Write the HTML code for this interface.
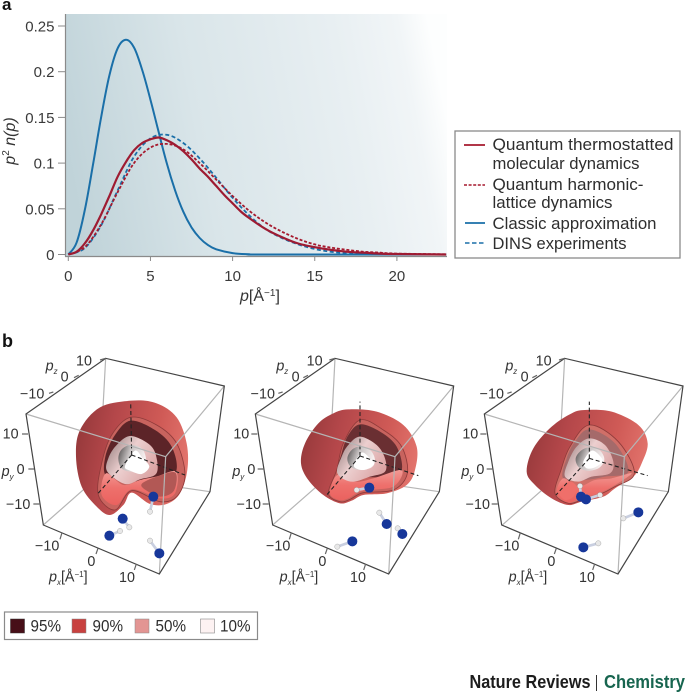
<!DOCTYPE html>
<html lang="en">
<head>
<meta charset="utf-8">
<title>Momentum distribution of water</title>
<style>
html,body{margin:0;padding:0;background:#fff;width:685px;height:692px;overflow:hidden}
svg{display:block;font-family:"Liberation Sans",sans-serif}
.tk{font-size:15px;fill:#3a3a3a}
.leg{font-size:16.5px;fill:#2e2e2e}
.b{stroke:#444;stroke-width:3.6;fill:none}
.g{stroke:#b5b5b5;stroke-width:3.6;fill:none}
.t{stroke:#666;stroke-width:3.6;fill:none}
.l{font-size:43px;fill:#333}
.d{stroke:#222;stroke-width:3.2;stroke-dasharray:12 8;fill:none}
.rim{stroke:#8f3a3a;stroke-width:2.5}
</style>
</head>
<body>
<svg id="root" xmlns="http://www.w3.org/2000/svg" width="685" height="692" viewBox="0 0 685 692">
<defs>
<linearGradient id="bg" x1="0" y1="0.56" x2="1" y2="0.44">
<stop offset="0" stop-color="#c0d3d9"/>
<stop offset="0.35" stop-color="#d9e5e9"/>
<stop offset="0.75" stop-color="#e8eff2"/>
<stop offset="0.92" stop-color="#f1f5f7"/>
<stop offset="1" stop-color="#fdfefe"/>
</linearGradient>
<linearGradient id="out" x1="0" y1="0.3" x2="1" y2="0.5">
<stop offset="0" stop-color="#96393b"/>
<stop offset="0.3" stop-color="#b4474a"/>
<stop offset="0.7" stop-color="#cf5a56"/>
<stop offset="1" stop-color="#e2736c"/>
</linearGradient>
<linearGradient id="shell" x1="0" y1="0" x2="1" y2="0.6">
<stop offset="0" stop-color="#8a7474"/>
<stop offset="0.5" stop-color="#eccfcf"/>
<stop offset="1" stop-color="#dca5a5"/>
</linearGradient>
<linearGradient id="core" x1="0" y1="0" x2="1" y2="0.3">
<stop offset="0" stop-color="#4e4a4a"/>
<stop offset="0.45" stop-color="#c9c4c4"/>
<stop offset="1" stop-color="#f7efef"/>
</linearGradient>
<linearGradient id="fl" x1="0" y1="0" x2="0" y2="1">
<stop offset="0" stop-color="#f29a95"/>
<stop offset="0.5" stop-color="#ee706c"/>
<stop offset="1" stop-color="#ea625f"/>
</linearGradient>
</defs>

<text x="2" y="10" font-size="17" font-weight="700" fill="#111">a</text>
<g id="chart">
<rect x="66" y="14" width="381" height="242" fill="url(#bg)"/>
<g id="axes"></g>
<g id="series"></g>
<text transform="translate(15,141) rotate(-90)" font-size="16" font-style="italic" fill="#333" text-anchor="middle">p<tspan font-size="10" dy="-6" font-style="normal">2</tspan><tspan dy="6"> n(p)</tspan></text>
<text x="240" y="301" font-size="16" fill="#333"><tspan font-style="italic">p</tspan>[Å<tspan font-size="10" dy="-5">−1</tspan><tspan dy="5">]</tspan></text>
</g>

<g>
<rect x="455" y="131" width="225" height="127" fill="#fff" stroke="#8a8a8a" stroke-width="1.3"/>
<line x1="464" x2="485" y1="145" y2="145" stroke="#a6192e" stroke-width="1.8"/>
<line x1="464" x2="485" y1="185" y2="185" stroke="#a6192e" stroke-width="1.6" stroke-dasharray="3 1.6"/>
<line x1="465" x2="485" y1="223" y2="223" stroke="#1a6fa8" stroke-width="1.8"/>
<line x1="465" x2="485" y1="243" y2="243" stroke="#1a6fa8" stroke-width="1.6" stroke-dasharray="4.5 2.5"/>
<text class="leg" x="492.5" y="150" textLength="181" lengthAdjust="spacingAndGlyphs">Quantum thermostatted</text>
<text class="leg" x="492.5" y="169" textLength="147" lengthAdjust="spacingAndGlyphs">molecular dynamics</text>
<text class="leg" x="492.5" y="190" textLength="151" lengthAdjust="spacingAndGlyphs">Quantum harmonic-</text>
<text class="leg" x="492.5" y="208" textLength="120" lengthAdjust="spacingAndGlyphs">lattice dynamics</text>
<text class="leg" x="492.5" y="229" textLength="164" lengthAdjust="spacingAndGlyphs">Classic approximation</text>
<text class="leg" x="492.5" y="249" textLength="134" lengthAdjust="spacingAndGlyphs">DINS experiments</text>
</g>

<text x="2" y="347" font-size="18" font-weight="700" fill="#111">b</text>

<!-- PANEL 1 -->
<g transform="translate(0,330) scale(0.33333)">
<g>
<path class="g" d="M317 85L298 437M130 585L298 437M630 485L298 437"/>
</g>
<path data-pts="395,212 470,220 530,262 560,340 562,420 540,490 500,522 450,522 395,488 370,525 330,555 290,530 245,470 228,380 240,300 300,232" fill="url(#out)"/>
<path data-pts="392,262 470,285 530,340 555,435 530,500 480,515 395,482 345,540 295,495 305,400 335,315" fill="#c8635e" class="rim"/>
<path data-pts="392,272 465,300 515,350 528,425 470,465 392,450 320,440 316,380 345,315" fill="#5c2428"/>
<path data-pts="318,430 370,465 420,450 468,440 528,425 525,490 480,505 395,478 350,525 305,495" fill="url(#fl)"/>
<path data-pts="470,440 526,428 522,482 482,500 440,482 425,462" fill="#b25855"/>
<path data-pts="392,318 450,345 470,385 468,432 420,448 375,462 322,425 325,385 350,345" fill="url(#shell)"/>
<path data-pts="392,345 425,355 438,385 432,415 395,425 365,415 355,385 365,358" fill="url(#core)"/>
<path data-pts="405,362 428,385 448,410 425,432 390,422 375,408" fill="#fff"/>
<g><path class="d" d="M395 375L392 215M395 375L290 495M395 375L555 435"/></g>
<g>
<path class="g" d="M78 252L497 380L673 168M497 380L478 732"/>
<path class="b" d="M78 252L317 85L673 168L630 485L478 732L130 585Z"/>
</g>
<g><path class="t" d="M300 90L317 85M222 143L236 136M147 190L160 186M66 312L84 312M85 417L102 417M100 522L118 522M180 628L186 608M288 672L294 655M403 720L409 702"/></g>
<g>
<text class="l" x="228" y="106">10</text>
<text class="l" x="182" y="154">0</text>
<text class="l" x="60" y="205">−10</text>
<text class="l" x="137" y="122" font-style="italic">p<tspan font-size="24" dy="10">z</tspan></text>
</g>
<g>
<text class="l" x="8" y="325">10</text>
<text class="l" x="50" y="432">0</text>
<text class="l" x="18" y="537">−10</text>
<text class="l" x="5" y="438" font-style="italic">p<tspan font-size="24" dy="10">y</tspan></text>
</g>
<g>
<text class="l" x="105" y="662">−10</text>
<text class="l" x="262" y="708">0</text>
<text class="l" x="357" y="756">10</text>
<text class="l" x="147" y="755"><tspan font-style="italic">p</tspan><tspan font-size="24" dy="10" font-style="italic">x</tspan><tspan dy="-10">[Å</tspan><tspan font-size="24" dy="-14">−1</tspan><tspan dy="14">]</tspan></text>
</g>
<g class="mols" data-mols="460,500,450,545 368,566,388,592 328,617,360,603 478,670,450,632"></g>
</g>

<!-- PANEL 2 -->
<g transform="translate(230,330) scale(0.33333)">
<g>
<path class="g" d="M315 85L297 437M128 585L297 437M628 485L297 437"/>
</g>
<path data-pts="355,238 440,245 520,285 560,350 555,420 530,465 470,490 400,495 365,512 330,520 280,495 235,450 213,400 225,340 265,280 310,250" fill="url(#out)"/>
<path data-pts="390,270 460,300 515,350 532,430 490,480 400,488 360,508 330,515 295,490 320,420 340,340" fill="#c8635e" class="rim"/>
<path data-pts="390,283 450,305 500,350 515,420 470,440 392,440 325,430 335,370 355,315" fill="#6a2f32"/>
<path data-pts="322,435 375,455 430,445 515,420 490,470 400,482 355,505 328,510 300,490" fill="url(#fl)"/>
<path data-pts="390,320 440,345 465,385 465,425 420,440 365,455 322,430 335,380 355,345" fill="url(#shell)"/>
<path data-pts="390,350 422,362 435,390 425,412 390,420 362,410 352,385 365,360" fill="url(#core)"/>
<path data-pts="395,368 420,385 432,402 410,418 385,418 372,405" fill="#fff"/>
<g><path class="d" d="M390 378L390 215M390 378L290 495M390 378L565 437"/></g>
<g>
<path class="g" d="M76 252L495 380L671 168M495 380L476 732"/>
<path class="b" d="M76 252L315 85L671 168L628 485L476 732L128 585Z"/>
</g>
<g><path class="t" d="M298 90L315 85M220 143L234 136M145 190L158 186M64 312L82 312M83 417L100 417M98 522L116 522M178 628L184 608M286 672L292 655M401 720L407 702"/></g>
<g>
<text class="l" x="230" y="106">10</text>
<text class="l" x="185" y="154">0</text>
<text class="l" x="62" y="205">−10</text>
<text class="l" x="139" y="122" font-style="italic">p<tspan font-size="24" dy="10">z</tspan></text>
</g>
<g>
<text class="l" x="10" y="325">10</text>
<text class="l" x="52" y="432">0</text>
<text class="l" x="20" y="537">−10</text>
<text class="l" x="7" y="438" font-style="italic">p<tspan font-size="24" dy="10">y</tspan></text>
</g>
<g>
<text class="l" x="108" y="662">−10</text>
<text class="l" x="265" y="708">0</text>
<text class="l" x="360" y="756">10</text>
<text class="l" x="149" y="755"><tspan font-style="italic">p</tspan><tspan font-size="24" dy="10" font-style="italic">x</tspan><tspan dy="-10">[Å</tspan><tspan font-size="24" dy="-14">−1</tspan><tspan dy="14">]</tspan></text>
</g>
<g class="mols" data-mols="418,473,380,480 470,582,448,548 517,612,503,595 367,634,322,650"></g>
</g>

<!-- PANEL 3 -->
<g transform="translate(455,330) scale(0.33333)">
<g>
<path class="g" d="M329 85L310 437M142 585L310 437M640 485L310 437"/>
</g>
<path data-pts="390,240 470,245 550,285 578,340 560,400 535,440 480,475 445,500 380,515 340,525 290,505 240,465 215,425 235,355 290,290 350,250" fill="url(#out)"/>
<path data-pts="403,285 490,335 538,430 480,470 430,495 380,510 340,520 300,490 318,420 345,350" fill="#d06f68" class="rim"/>
<path data-pts="403,298 480,340 520,425 450,440 390,450 325,445 335,385 360,335" fill="#a56a6a"/>
<path data-pts="325,445 370,470 420,450 470,445 530,430 480,465 430,490 375,505 340,518 305,490" fill="url(#fl)"/>
<path data-pts="403,325 450,345 475,395 465,430 410,440 370,455 330,440 340,395 365,350" fill="url(#shell)"/>
<path data-pts="403,352 435,362 448,390 430,415 395,422 370,410 362,385 378,362" fill="url(#core)"/>
<path data-pts="410,362 435,378 442,395 420,412 395,415 385,395" fill="#fff"/>
<path data-pts="320,470 345,455 365,470 355,500 330,510 312,490" fill="#ef6f6a"/>
<g><path class="d" d="M403 385L403 215M403 385L303 495M403 385L578 437"/></g>
<g>
<path class="g" d="M88 252L508 380L684 168M508 380L489 732"/>
<path class="b" d="M88 252L329 85L684 168L640 485L489 732L140 585Z"/>
</g>
<g><path class="t" d="M312 90L329 85M232 143L246 136M157 190L170 186M76 312L94 312M95 417L112 417M110 522L128 522M190 628L196 608M298 672L304 655M413 720L419 702"/></g>
<g>
<text class="l" x="242" y="106">10</text>
<text class="l" x="197" y="154">0</text>
<text class="l" x="74" y="205">−10</text>
<text class="l" x="151" y="122" font-style="italic">p<tspan font-size="24" dy="10">z</tspan></text>
</g>
<g>
<text class="l" x="22" y="325">10</text>
<text class="l" x="64" y="432">0</text>
<text class="l" x="32" y="537">−10</text>
<text class="l" x="19" y="438" font-style="italic">p<tspan font-size="24" dy="10">y</tspan></text>
</g>
<g>
<text class="l" x="120" y="662">−10</text>
<text class="l" x="277" y="708">0</text>
<text class="l" x="372" y="756">10</text>
<text class="l" x="161" y="755"><tspan font-style="italic">p</tspan><tspan font-size="24" dy="10" font-style="italic">x</tspan><tspan dy="-10">[Å</tspan><tspan font-size="24" dy="-14">−1</tspan><tspan dy="14">]</tspan></text>
</g>
<g class="mols" data-mols="378,500,375,468 393,508,435,495 550,547,505,565 385,652,430,640"></g>
</g>

<g>
<rect x="4.5" y="612" width="253" height="27.5" fill="#fff" stroke="#8a8a8a" stroke-width="1.2"/>
<rect x="10.5" y="619" width="14" height="14" fill="#470f18" stroke="#333" stroke-width="0.5"/>
<text class="leg" x="30.5" y="631.5" textLength="30.5" lengthAdjust="spacingAndGlyphs">95%</text>
<rect x="72" y="619" width="14" height="14" fill="#c8413f" stroke="#888" stroke-width="0.5"/>
<text class="leg" x="92.5" y="631.5" textLength="30.5" lengthAdjust="spacingAndGlyphs">90%</text>
<rect x="135" y="619" width="14" height="14" fill="#e39593" stroke="#888" stroke-width="0.5"/>
<text class="leg" x="155.5" y="631.5" textLength="30.5" lengthAdjust="spacingAndGlyphs">50%</text>
<rect x="200.5" y="619" width="14" height="14" fill="#fdf2f2" stroke="#888" stroke-width="0.6"/>
<text class="leg" x="220" y="631.5" textLength="30.5" lengthAdjust="spacingAndGlyphs">10%</text>
</g>

<text x="469.5" y="688" font-size="18" font-weight="700" fill="#1c1c1c" textLength="121" lengthAdjust="spacingAndGlyphs">Nature Reviews</text>
<line x1="596.5" x2="596.5" y1="675" y2="691" stroke="#333" stroke-width="1"/>
<text x="604" y="688" font-size="18" font-weight="700" fill="#17654f" textLength="81" lengthAdjust="spacingAndGlyphs">Chemistry</text>
</svg>

<script>
// Chart data
const xTicks = [0, 5, 10, 15, 20];
const yTicks = [0, 0.05, 0.1, 0.15, 0.2, 0.25];
const yTickLabels = ['0', '0.05', '0.1', '0.15', '0.2', '0.25'];
const classicP = [0, 0.5, 1, 1.5, 2, 2.5, 3, 3.5, 4, 4.5, 5, 5.5, 6, 6.5, 7, 7.5, 8, 8.5, 9, 10, 11, 12, 23];
const classicValues = [0, 0.0128, 0.0481, 0.0977, 0.1506, 0.1959, 0.2255, 0.235, 0.2265, 0.2019, 0.1695, 0.1339, 0.0994, 0.0701, 0.0468, 0.0297, 0.018, 0.0103, 0.0057, 0.0015, 0.0003, 0, 0];
const thermostatP = [0, 0.5, 1, 1.5, 2, 2.5, 3, 3.5, 4, 4.5, 5, 5.5, 6, 6.5, 7, 7.5, 8, 8.5, 9, 9.5, 10, 10.5, 11, 12, 13, 14, 15, 16, 17, 18, 19, 20, 23];
const thermostatValues = [0, 0.003, 0.012, 0.026, 0.044, 0.064, 0.085, 0.101, 0.114, 0.122, 0.126, 0.128, 0.125, 0.12, 0.113, 0.104, 0.094, 0.085, 0.075, 0.065, 0.056, 0.047, 0.04, 0.028, 0.019, 0.012, 0.008, 0.005, 0.003, 0.002, 0.001, 0.0005, 0];
const harmonicP = [0, 1, 2, 3, 4, 5, 6, 7, 8, 9, 10, 11, 12, 13, 14, 15, 16, 17, 18, 19, 20, 23];
const harmonicValues = [0, 0.008, 0.033, 0.068, 0.1, 0.117, 0.121, 0.115, 0.1, 0.082, 0.064, 0.048, 0.035, 0.025, 0.017, 0.011, 0.0075, 0.005, 0.003, 0.002, 0.001, 0.0002];
const dinsP = [0, 1, 2, 3, 4, 5, 6, 7, 8, 9, 10, 11, 12, 13, 14, 15, 16, 17, 18, 20, 23];
const dinsValues = [0, 0.007, 0.032, 0.07, 0.107, 0.127, 0.131, 0.122, 0.105, 0.084, 0.062, 0.043, 0.028, 0.018, 0.011, 0.006, 0.003, 0.0015, 0.0007, 0, 0];

const NS = 'http://www.w3.org/2000/svg';
const xScale = p => 68.3 + p * 16.43;
const yScale = v => 254.5 - v * 914;

function smooth(pts, closed) {
  const n = pts.length;
  const at = i => closed ? pts[(i + n) % n] : pts[Math.max(0, Math.min(n - 1, i))];
  let d = 'M' + pts[0][0].toFixed(1) + ' ' + pts[0][1].toFixed(1);
  const last = closed ? n : n - 1;
  for (let i = 0; i < last; i++) {
    const p0 = at(i - 1), p1 = at(i), p2 = at(i + 1), p3 = at(i + 2);
    const c1x = p1[0] + (p2[0] - p0[0]) / 6, c1y = p1[1] + (p2[1] - p0[1]) / 6;
    const c2x = p2[0] - (p3[0] - p1[0]) / 6, c2y = p2[1] - (p3[1] - p1[1]) / 6;
    d += 'C' + c1x.toFixed(1) + ' ' + c1y.toFixed(1) + ' ' + c2x.toFixed(1) + ' ' + c2y.toFixed(1) + ' ' + p2[0].toFixed(1) + ' ' + p2[1].toFixed(1);
  }
  return closed ? d + 'Z' : d;
}

function node(tag, attrs, parent) {
  const el = document.createElementNS(NS, tag);
  for (const k in attrs) el.setAttribute(k, attrs[k]);
  parent.appendChild(el);
  return el;
}

const axes = document.getElementById('axes');
const yAxisLine = node('line', {x1: 65.5, x2: 65.5, y1: 14, y2: 256.5, stroke: '#8a8a8a', 'stroke-width': 1.2}, axes);


const xAxisLine = node('line', {x1: 65, x2: 447, y1: 256.5, y2: 256.5, stroke: '#8a8a8a', 'stroke-width': 1.2}, axes);



xTicks.forEach(t => {
  const tick = node('line', {x1: xScale(t), x2: xScale(t), y1: 256.5, y2: 261, stroke: '#8a8a8a', 'stroke-width': 1}, axes);
  
  
  const label = node('text', {x: xScale(t), y: 281, class: 'tk', 'text-anchor': 'middle'}, axes);
  label.textContent = String(t);
  
  
});
yTicks.forEach((t, i) => {
  const tick = node('line', {x1: 58, x2: 65.5, y1: yScale(t), y2: yScale(t), stroke: '#8a8a8a', 'stroke-width': 1}, axes);
  
  
  const label = node('text', {x: 54.5, y: yScale(t) + 5.5, class: 'tk', 'text-anchor': 'end'}, axes);
  label.textContent = yTickLabels[i];
  
  
});

function linePath(ps, vs) {
  return smooth(ps.map((p, i) => [xScale(p), yScale(vs[i])]), false);
}
const seriesGroup = document.getElementById('series');
const dinsLine = node('path', {d: linePath(dinsP, dinsValues), fill: 'none', stroke: '#1a6fa8', 'stroke-width': 1.8, 'stroke-dasharray': '4 2.5'}, seriesGroup);


const classicLine = node('path', {d: linePath(classicP, classicValues), fill: 'none', stroke: '#1a6fa8', 'stroke-width': 2}, seriesGroup);


const harmonicLine = node('path', {d: linePath(harmonicP, harmonicValues), fill: 'none', stroke: '#a6192e', 'stroke-width': 1.8, 'stroke-dasharray': '3 1.8'}, seriesGroup);


const thermostatLine = node('path', {d: linePath(thermostatP, thermostatValues), fill: 'none', stroke: '#9e1b32', 'stroke-width': 2.2}, seriesGroup);



// Illustration blobs: smooth closed outlines from listed anchor points
document.querySelectorAll('path[data-pts]').forEach(el => {
  const pts = el.getAttribute('data-pts').trim().split(/\s+/).map(s => s.split(',').map(Number));
  el.setAttribute('d', smooth(pts, true));
});

// Water molecules: oxygen + hydrogen pairs
document.querySelectorAll('g.mols').forEach(g => {
  g.getAttribute('data-mols').split(' ').forEach(m => {
    const c = m.split(',').map(Number);
    const stick = node('line', {x1: c[0], y1: c[1], x2: c[2], y2: c[3], stroke: '#c9cfe0', 'stroke-width': 8}, g);
    
    
    const h = node('circle', {cx: c[2], cy: c[3], r: 8, fill: '#e8e8e8', stroke: '#888', 'stroke-width': 1}, g);
    
    
    const o = node('circle', {cx: c[0], cy: c[1], r: 15, fill: '#17379a'}, g);
    
    
  });
});
</script>
</body>
</html>
